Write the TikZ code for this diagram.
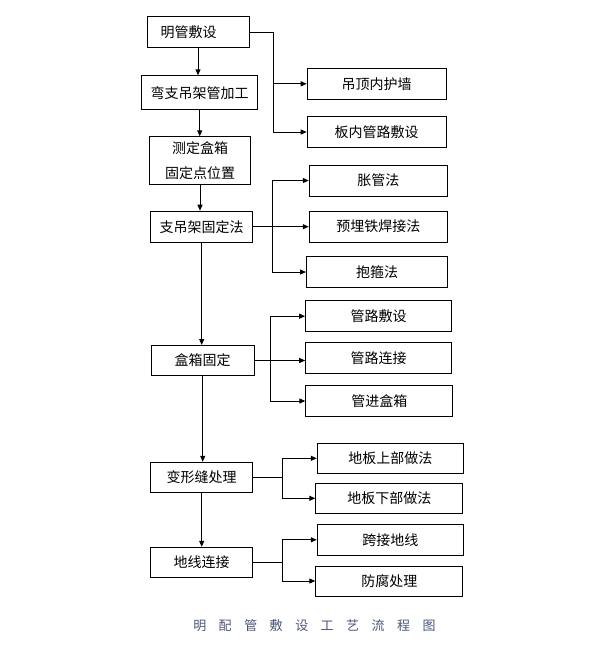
\documentclass[tikz,border=0pt]{standalone}
\usepackage{fontspec}
\setmainfont{Noto Sans CJK SC}
\usepackage{tikz}
\usetikzlibrary{arrows.meta}
\usetikzlibrary{positioning}

\definecolor{captionblue}{RGB}{75,85,120}
\newcommand{\capgap}{\hspace{12.5pt}}

\begin{document}
\begin{tikzpicture}[x=1pt, y=-1pt,
  box/.style={rectangle, draw, line width=1pt, inner sep=0pt, align=center,
    font=\fontsize{14}{25.6}\selectfont},
  link/.style={line width=1pt, -{Triangle[length=6pt,width=5pt]}},
  bar/.style={line width=1pt}]
  \useasboundingbox (0,0) rectangle (599,650);

  % main column
  \node [box, minimum width=102pt, minimum height=31pt] (ming) at (198,32.5) {明管敷设\hspace*{19pt}};
  \node [box, minimum width=116pt, minimum height=34pt] (wan) at (199.7,92.8) {弯支吊架管加工};
  \node [box, minimum width=101pt, minimum height=48pt] (ceding) at (200,160.8) {测定盒箱\\固定点位置};
  \node [box, minimum width=102pt, minimum height=31pt] (zhi) at (201.7,226.7) {支吊架固定法};
  \node [box, minimum width=103pt, minimum height=30pt] (hexiang) at (202.7,360.5) {盒箱固定};
  \node [box, minimum width=102pt, minimum height=30pt] (bianxing) at (201.7,477.3) {变形缝处理};
  \node [box, minimum width=102pt, minimum height=30pt] (dixian) at (201.7,562.3) {地线连接};

  % side boxes
  \node [box, minimum width=139pt, minimum height=31pt] (diaoding) at (376.7,83.8) {吊顶内护墙};
  \node [box, minimum width=139pt, minimum height=31pt] (bannei) at (376.7,132) {板内管路敷设};
  \node [box, minimum width=138pt, minimum height=31pt] (zhangguan) at (378.3,180.5) {胀管法};
  \node [box, minimum width=138pt, minimum height=31pt] (yumai) at (378.3,226.7) {预埋铁焊接法};
  \node [box, minimum width=141pt, minimum height=31pt] (baogu) at (377,272) {抱箍法};
  \node [box, minimum width=146pt, minimum height=31pt] (guanlu) at (378.7,316.2) {管路敷设};
  \node [box, minimum width=146pt, minimum height=31pt] (lianjie) at (378.7,357.8) {管路连接};
  \node [box, minimum width=147pt, minimum height=31pt] (guanjin) at (379.3,401) {管进盒箱};
  \node [box, minimum width=146pt, minimum height=30pt] (shangbu) at (390.3,458.3) {地板上部做法};
  \node [box, minimum width=147pt, minimum height=30pt] (xiabu) at (389.3,498.3) {地板下部做法};
  \node [box, minimum width=146pt, minimum height=31pt] (kuajie) at (390.3,539.8) {跨接地线};
  \node [box, minimum width=147pt, minimum height=30pt] (fangfu) at (389.3,581) {防腐处理};

  % main flow
  \draw [link] (ming.south) -- (ming.south |- wan.north);
  \draw [link] (wan.south) -- (wan.south |- ceding.north);
  \draw [link] (ceding.south) -- (ceding.south |- zhi.north);
  \draw [link] (zhi.south) -- (zhi.south |- hexiang.north);
  \draw [link] (hexiang.south) -- (hexiang.south |- bianxing.north);
  \draw [link] (bianxing.south) -- (bianxing.south |- dixian.north);

  % branches
  \coordinate (b1) at ([xshift=24pt]ming.east);
  \draw [bar] (ming.east) -- (b1);
  \draw [link] (b1) |- (bannei.west);
  \draw [link] (b1 |- diaoding.west) -- (diaoding.west);

  \coordinate (b2) at (272,180.5);
  \draw [link] (zhi.east) -- (yumai.west);
  \draw [link] (b2) -- (zhangguan.west);
  \draw [link] (b2) |- (baogu.west);

  \coordinate (b3) at (270,316.2);
  \draw [link] (hexiang.east) -- (hexiang.east -| lianjie.west);
  \draw [link] (b3) -- (guanlu.west);
  \draw [link] (b3) |- (guanjin.west);

  \coordinate (b4) at (282.7,477.3);
  \draw [bar] (bianxing.east) -- (b4);
  \draw [link] (b4) |- (shangbu.west);
  \draw [link] (b4) |- (xiabu.west);

  \coordinate (b5) at (282.7,562.3);
  \draw [bar] (dixian.east) -- (b5);
  \draw [link] (b5) |- (kuajie.west);
  \draw [link] (b5) |- (fangfu.west);

  % caption
  \node [text=captionblue, font=\fontsize{13}{15}\selectfont] (title) at (314.5,626)
    {明\capgap 配\capgap 管\capgap 敷\capgap 设\capgap 工\capgap 艺\capgap 流\capgap 程\capgap 图};
\end{tikzpicture}
\end{document}
